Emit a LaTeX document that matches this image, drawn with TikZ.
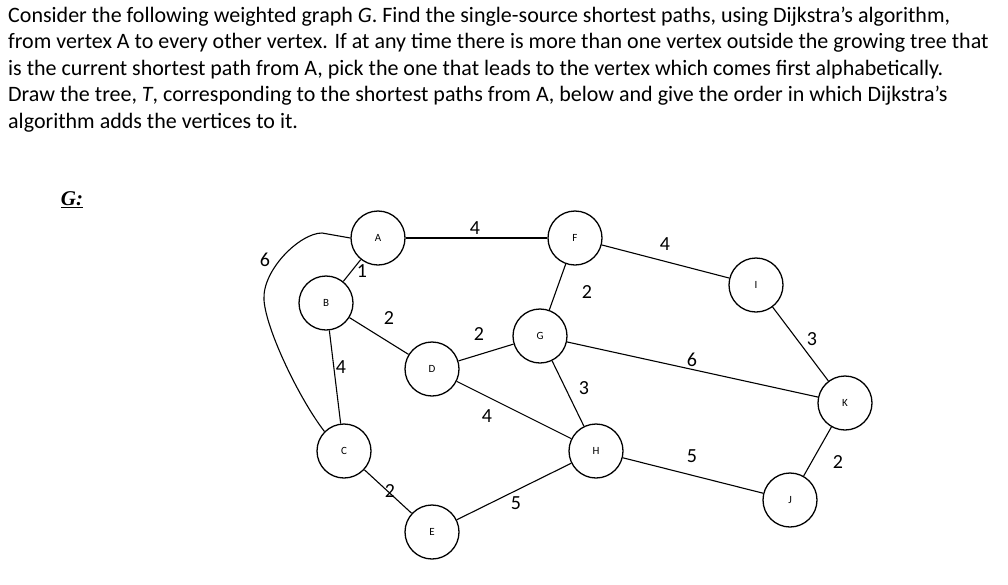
\documentclass[tikz,border=0pt]{standalone}
\usepackage{fontspec}
\setmainfont{Carlito}
\newfontfamily\serifit{Liberation Serif}
\usetikzlibrary{shapes.geometric}
\begin{document}
\begin{tikzpicture}[x=1pt,y=-1pt,
  vtx/.style={draw,line width=1.3pt,circle,minimum size=54pt,inner sep=0pt,font=\fontsize{11}{11}\selectfont},
  ln/.style={anchor=base west,inner sep=0pt,font=\fontsize{22}{22}\selectfont},
  wt/.style={inner sep=0pt,font=\fontsize{20}{20}\selectfont},
  edge/.style={line width=1.1pt}]
\useasboundingbox (0,0) rectangle (1008,584);
\node[ln] (l1) at (8,22) {Consider the following weighted graph \textit{G}. Find the single-source shortest paths, using Dijkstra’s algorithm,};
\node[ln] (l2) at (8,48) {from vertex A to every other vertex. If at any time there is more than one vertex outside the growing tree that};
\node[ln] (l3) at (8,75) {is the current shortest path from A, pick the one that leads to the vertex which comes first alphabetically.};
\node[ln] (l4) at (8,101) {Draw the tree, \textit{T}, corresponding to the shortest paths from A, below and give the order in which Dijkstra’s};
\node[ln] (l5) at (8,128) {algorithm adds the vertices to it.};
\node[inner sep=0pt,font=\serifit\bfseries\itshape\fontsize{21}{21}\selectfont] (g) at (72,200) {\underline{G:}};
\node[vtx] (A) at (378,238) {A};
\node[vtx] (F) at (575,238) {F};
\node[vtx] (I) at (756,285) {I};
\node[vtx] (B) at (326,303) {B};
\node[vtx] (D) at (432,369) {D};
\node[vtx] (G) at (540,336) {G};
\node[vtx] (K) at (845,403) {K};
\node[vtx] (C) at (344,451) {C};
\node[vtx] (H) at (596,451) {H};
\node[vtx] (J) at (790,500) {J};
\node[vtx] (E) at (432,532) {E};
\draw[edge] (A)--(F); \draw[edge] (F)--(I); \draw[edge] (A)--(B); \draw[edge] (B)--(D);
\draw[edge] (F)--(G); \draw[edge] (D)--(G); \draw[edge] (G)--(K); \draw[edge] (I)--(K);
\draw[edge] (B)--(C); \draw[edge] (D)--(H); \draw[edge] (G)--(H); \draw[edge] (C)--(E);
\draw[edge] (E)--(H); \draw[edge] (H)--(J); \draw[edge] (J)--(K);
\draw[edge] (A.west) -- (322,233) .. controls (300,233) and (262,270) .. (264,300) .. controls (266,330) and (300,400) .. (C.north west);
\node[wt] (w1) at (475,228) {4};
\node[wt] (w2) at (665,244) {4};
\node[wt] (w3) at (362,271) {1};
\node[wt] (w4) at (389,318) {2};
\node[wt] (w5) at (587,292) {2};
\node[wt] (w6) at (479,334) {2};
\node[wt] (w7) at (692,360) {6};
\node[wt] (w8) at (812,339) {3};
\node[wt] (w9) at (341,367) {4};
\node[wt] (w10) at (487,416) {4};
\node[wt] (w11) at (584,388) {3};
\node[wt] (w12) at (390,491) {2};
\node[wt] (w13) at (516,503) {5};
\node[wt] (w14) at (692,456) {5};
\node[wt] (w15) at (838,462) {2};
\node[wt] (w16) at (265,260) {6};
\end{tikzpicture}
\end{document}
